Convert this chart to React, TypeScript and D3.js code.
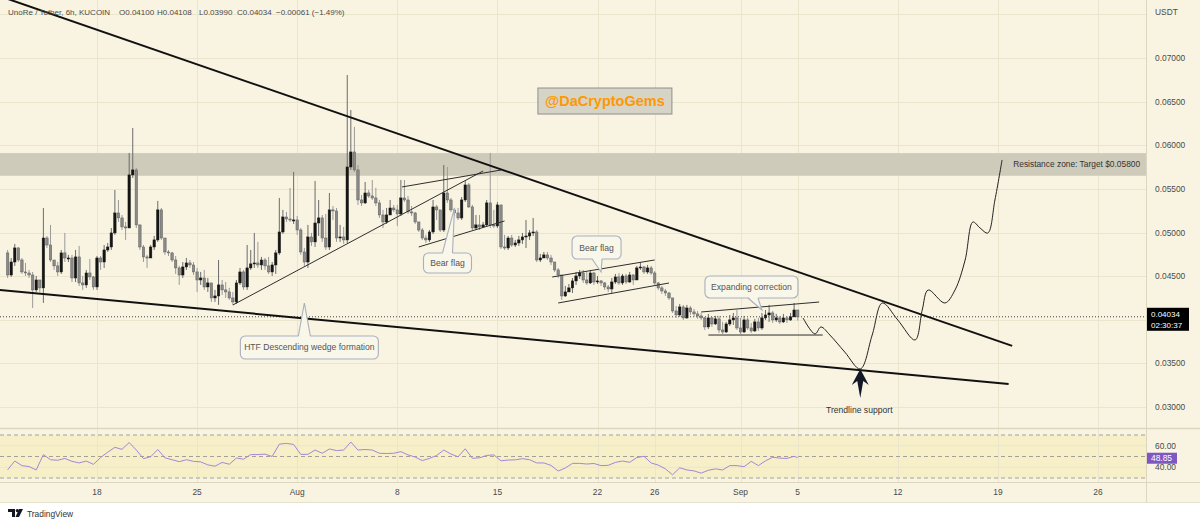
import React from 'react';
import * as d3 from 'd3';

const FONT = '"Liberation Sans", Arial, sans-serif';

// ---------- data ----------
const START = Date.UTC(2022, 6, 11, 18); // first 6h candle
const STEP = 6 * 3600 * 1000;
const firstOpen = 0.04766;

const closes = [
  0.04513, 0.04662, 0.04823, 0.04685, 0.04548, 0.04536, 0.04513, 0.04342, 0.04456, 0.04365,
  0.04937, 0.04857, 0.04685, 0.04617, 0.04548, 0.04766, 0.04708, 0.04708, 0.04479, 0.0472,
  0.04422, 0.04399, 0.04536, 0.04491, 0.04376, 0.04708, 0.04662, 0.048, 0.04834, 0.04995,
  0.05224, 0.05167, 0.05064, 0.05052, 0.0566, 0.05717, 0.05087, 0.04834, 0.0472, 0.04708,
  0.04834, 0.04915, 0.05259, 0.04937, 0.04777, 0.04766, 0.04685, 0.04594, 0.04513, 0.04605,
  0.04651, 0.04628, 0.04548, 0.04456, 0.04479, 0.04376, 0.04422, 0.0425, 0.04273, 0.04399,
  0.04342, 0.04319, 0.0425, 0.04204, 0.04422, 0.04548, 0.04376, 0.04594, 0.0464, 0.04651,
  0.04628, 0.04685, 0.04617, 0.04548, 0.04628, 0.04766, 0.05006, 0.05178, 0.05155, 0.05144,
  0.05144, 0.05029, 0.04777, 0.04662, 0.04949, 0.04892, 0.05109, 0.05167, 0.04937, 0.04834,
  0.05259, 0.05247, 0.04937, 0.04949, 0.04915, 0.05751, 0.05923, 0.05717, 0.05373, 0.05339,
  0.05453, 0.05419, 0.05396, 0.05339, 0.05201, 0.05121, 0.05201, 0.05281, 0.05259, 0.05213,
  0.05396, 0.05373, 0.05236, 0.05224, 0.05121, 0.05029, 0.04937, 0.04915, 0.05006, 0.05293,
  0.05259, 0.05029, 0.05453, 0.05373, 0.05259, 0.05224, 0.05167, 0.05373, 0.05545, 0.05293,
  0.05052, 0.05087, 0.05064, 0.05087, 0.05339, 0.05087, 0.05075, 0.05316, 0.04834, 0.04823,
  0.04937, 0.04857, 0.0488, 0.04915, 0.04949, 0.0496, 0.04995, 0.05006, 0.04685, 0.04708,
  0.04743, 0.04708, 0.04662, 0.04571, 0.04513, 0.04273, 0.04319, 0.04365, 0.04445, 0.04502,
  0.04536, 0.04456, 0.04422, 0.04536, 0.04433, 0.04445, 0.04422, 0.04376, 0.04353, 0.04433,
  0.04491, 0.04422, 0.04502, 0.04433, 0.04513, 0.04456, 0.04594, 0.04605, 0.04548, 0.04594,
  0.04536, 0.04422, 0.04365, 0.0433, 0.04307, 0.0425, 0.04101, 0.04055, 0.04147, 0.04021,
  0.04135, 0.0409, 0.04067, 0.04044, 0.04021, 0.03918, 0.04021, 0.03952, 0.0401, 0.03883,
  0.0386, 0.03952, 0.03998, 0.04021, 0.03906, 0.0386, 0.03998, 0.03906, 0.03872, 0.03975,
  0.03906, 0.04021, 0.04055, 0.04078, 0.03998, 0.04021, 0.03975, 0.04021, 0.03998, 0.04033,
  0.04112, 0.04034,
];

const highs = [
  0.048, 0.04708, 0.04869, 0.04834, 0.04708, 0.04651, 0.04571, 0.04548, 0.04502, 0.0441,
  0.05281, 0.0496, 0.05087, 0.04685, 0.04662, 0.048, 0.04995, 0.04743, 0.04743, 0.048,
  0.04846, 0.04502, 0.04571, 0.04697, 0.04502, 0.04731, 0.04731, 0.04857, 0.0488, 0.05052,
  0.05488, 0.05373, 0.05201, 0.05121, 0.05912, 0.06198, 0.0574, 0.05087, 0.04857, 0.04743,
  0.04857, 0.0496, 0.05362, 0.05281, 0.04937, 0.048, 0.04777, 0.04731, 0.04617, 0.04662,
  0.04708, 0.04685, 0.04662, 0.04594, 0.04548, 0.04571, 0.04479, 0.04422, 0.04342, 0.04685,
  0.04456, 0.04433, 0.04365, 0.04319, 0.04456, 0.04594, 0.04571, 0.04857, 0.048, 0.04995,
  0.04892, 0.0472, 0.04708, 0.0472, 0.04662, 0.048, 0.05396, 0.05259, 0.05236, 0.05511,
  0.05694, 0.0519, 0.05052, 0.04823, 0.05087, 0.04995, 0.05591, 0.05373, 0.05201, 0.05213,
  0.05453, 0.05304, 0.05281, 0.05087, 0.05064, 0.06805, 0.06404, 0.0621, 0.05774, 0.0543,
  0.05579, 0.05488, 0.05602, 0.05511, 0.05373, 0.05259, 0.05281, 0.05373, 0.05316, 0.05316,
  0.05602, 0.05602, 0.05419, 0.05304, 0.05236, 0.05121, 0.05052, 0.04972, 0.05029, 0.05373,
  0.05316, 0.05224, 0.05774, 0.05751, 0.05396, 0.05281, 0.05281, 0.05407, 0.05591, 0.05568,
  0.05316, 0.05201, 0.05201, 0.05121, 0.05373, 0.05912, 0.05259, 0.0535, 0.05316, 0.04972,
  0.0496, 0.04972, 0.04915, 0.0496, 0.04995, 0.05144, 0.05029, 0.05167, 0.05029, 0.04754,
  0.04777, 0.04777, 0.04743, 0.04662, 0.04594, 0.04513, 0.04387, 0.0441, 0.04479, 0.04548,
  0.04571, 0.04571, 0.04548, 0.04571, 0.04548, 0.04502, 0.04456, 0.04433, 0.04399, 0.04479,
  0.04525, 0.04536, 0.04525, 0.04525, 0.04548, 0.04525, 0.04617, 0.04662, 0.04617, 0.04628,
  0.04617, 0.04559, 0.04433, 0.04387, 0.04353, 0.04319, 0.0425, 0.04158, 0.04181, 0.0417,
  0.0417, 0.04158, 0.04124, 0.04101, 0.04078, 0.04033, 0.04067, 0.04033, 0.04044, 0.04044,
  0.03975, 0.03975, 0.04055, 0.04078, 0.04112, 0.04021, 0.04044, 0.04021, 0.03963, 0.0401,
  0.04021, 0.04078, 0.04112, 0.0417, 0.04101, 0.04067, 0.04044, 0.04067, 0.04044, 0.04078,
  0.04193, 0.04108,
];

const lows = [
  0.04479, 0.04491, 0.04617, 0.04662, 0.04525, 0.04502, 0.04479, 0.04135, 0.04319, 0.04319,
  0.04193, 0.04823, 0.04662, 0.04571, 0.04502, 0.04525, 0.04662, 0.04662, 0.04433, 0.04433,
  0.04387, 0.04342, 0.04365, 0.04456, 0.04342, 0.04342, 0.04571, 0.04594, 0.04777, 0.048,
  0.04972, 0.05121, 0.05029, 0.04915, 0.05052, 0.05625, 0.05052, 0.048, 0.04662, 0.04594,
  0.04708, 0.048, 0.04892, 0.04915, 0.04743, 0.04731, 0.04662, 0.04525, 0.04399, 0.04479,
  0.04571, 0.04594, 0.04513, 0.04319, 0.04399, 0.04342, 0.04319, 0.04204, 0.04204, 0.0417,
  0.04284, 0.0425, 0.04227, 0.0417, 0.04181, 0.04399, 0.04342, 0.04342, 0.04571, 0.04594,
  0.04594, 0.04571, 0.04571, 0.04525, 0.04502, 0.04525, 0.04743, 0.04983, 0.05121, 0.05121,
  0.05098, 0.04972, 0.04743, 0.04617, 0.04594, 0.04846, 0.04834, 0.0496, 0.04892, 0.048,
  0.048, 0.05144, 0.04892, 0.04892, 0.04869, 0.0488, 0.05717, 0.05694, 0.05316, 0.05304,
  0.05327, 0.05396, 0.05373, 0.05304, 0.05167, 0.05052, 0.05098, 0.05201, 0.05236, 0.05075,
  0.0519, 0.0535, 0.05213, 0.0519, 0.05098, 0.05006, 0.04915, 0.0488, 0.04892, 0.04983,
  0.05144, 0.05006, 0.05006, 0.05339, 0.05236, 0.0519, 0.05144, 0.05144, 0.0535, 0.05281,
  0.05029, 0.05029, 0.05029, 0.05052, 0.05064, 0.05052, 0.05052, 0.05052, 0.04811, 0.048,
  0.048, 0.04834, 0.04834, 0.04846, 0.04869, 0.04823, 0.04915, 0.0496, 0.04662, 0.04662,
  0.04708, 0.04685, 0.04628, 0.04548, 0.04479, 0.04227, 0.04261, 0.04319, 0.04307, 0.04399,
  0.04468, 0.04422, 0.04399, 0.0441, 0.04399, 0.0441, 0.04387, 0.04342, 0.04319, 0.04307,
  0.0441, 0.04399, 0.04399, 0.0441, 0.04422, 0.04399, 0.04456, 0.04571, 0.04525, 0.04525,
  0.04513, 0.04399, 0.04342, 0.04296, 0.04273, 0.04227, 0.04078, 0.04021, 0.04033, 0.03998,
  0.0401, 0.04055, 0.04033, 0.0401, 0.03998, 0.03883, 0.03895, 0.03918, 0.03941, 0.03849,
  0.03837, 0.03849, 0.03929, 0.03941, 0.03883, 0.03837, 0.03849, 0.03883, 0.03849, 0.0386,
  0.03872, 0.03883, 0.03998, 0.03975, 0.03963, 0.03975, 0.03952, 0.03963, 0.03963, 0.03986,
  0.04044, 0.0399,
];

// RSI(14), read every 12h (every second candle), last value on the last candle
const rsiValues = [
  37.6, 45.8, 41.5, 40.6, 37.5, 51.8, 47, 46.5, 48.2, 45.5,
  44, 45.8, 42.7, 49, 54, 58.5, 56.7, 63, 56, 48,
  49.7, 56.5, 48.8, 47, 45.2, 47, 45.5, 45, 42.2, 41,
  44.5, 42.8, 48.6, 47.5, 51.8, 51.8, 52.2, 50, 61.5, 62.2,
  61.2, 52, 52, 56, 53, 57, 55.5, 56, 63.5, 56,
  56.5, 56, 53, 52.8, 53, 54.5, 51.5, 49.5, 46.2, 48.2,
  51, 56, 52.3, 49.7, 57.2, 48.3, 48.8, 51, 51.5, 46,
  46.7, 46.9, 48, 47, 44, 44, 41.7, 36.5, 39.3, 43.6,
  43.6, 43, 43.5, 41.5, 41.8, 44.5, 45.8, 44.6, 49, 50.2,
  44, 42, 38.5, 33, 39.5, 37.5, 36.6, 34.5, 37.2, 38.5,
  37.5, 41.5, 41.5, 40.5, 45.5, 41.5, 46, 49.3, 48.5, 48.2,
  50.2, 48.85,
];

const timeTicks = [
  { date: '2022-07-18', label: '18' },
  { date: '2022-07-25', label: '25' },
  { date: '2022-08-01', label: 'Aug' },
  { date: '2022-08-08', label: '8' },
  { date: '2022-08-15', label: '15' },
  { date: '2022-08-22', label: '22' },
  { date: '2022-08-26', label: '26' },
  { date: '2022-09-01', label: 'Sep' },
  { date: '2022-09-05', label: '5' },
  { date: '2022-09-12', label: '12' },
  { date: '2022-09-19', label: '19' },
  { date: '2022-09-26', label: '26' },
];
// 0.04000 is hidden behind the last-price label in the reference
const priceTicks = [0.03, 0.035, 0.045, 0.05, 0.055, 0.06, 0.065, 0.07];
const priceGrid = [0.03, 0.035, 0.04, 0.045, 0.05, 0.055, 0.06, 0.065, 0.07, 0.075];
const rsiTicks = [60, 40];
const rsiBands = [70, 50, 30];

// drawings: [time, price]
const upperWedge: [string, number][] = [['2022-07-11T00:00Z', 0.0772], ['2022-09-20T00:00Z', 0.037]];
const lowerWedge: [string, number][] = [['2022-07-11T00:00Z', 0.04344], ['2022-09-19T18:00Z', 0.03264]];
const risingSupport: [string, number][] = [['2022-07-27T12:00Z', 0.04169], ['2022-08-14T00:00Z', 0.05705]];
const flag1Upper: [string, number][] = [['2022-08-08T08:00Z', 0.05522], ['2022-08-15T06:00Z', 0.05716]];
const flag1Lower: [string, number][] = [['2022-08-09T12:00Z', 0.04834], ['2022-08-15T12:00Z', 0.05132]];
const flag2Upper: [string, number][] = [['2022-08-18T20:00Z', 0.0449], ['2022-08-26T00:00Z', 0.04685]];
const flag2Lower: [string, number][] = [['2022-08-19T06:00Z', 0.04192], ['2022-08-27T00:00Z', 0.04421]];
const expUpper: [string, number][] = [['2022-08-29T06:00Z', 0.04089], ['2022-09-06T12:00Z', 0.04203]];
const expLower: [string, number][] = [['2022-08-29T18:00Z', 0.03825], ['2022-09-06T18:00Z', 0.03825]];
const projection: [string, number][] = [
  ['2022-09-05T09:00Z', 0.0402],
  ['2022-09-06T05:00Z', 0.03837],
  ['2022-09-06T15:00Z', 0.03917],
  ['2022-09-07T06:00Z', 0.03825],
  ['2022-09-08T07:00Z', 0.0363],
  ['2022-09-09T09:00Z', 0.03436],
  ['2022-09-10T05:00Z', 0.03825],
  ['2022-09-10T22:00Z', 0.04192],
  ['2022-09-12T00:00Z', 0.03997],
  ['2022-09-13T05:00Z', 0.03768],
  ['2022-09-13T17:00Z', 0.04112],
  ['2022-09-14T03:00Z', 0.04341],
  ['2022-09-15T07:00Z', 0.04192],
  ['2022-09-16T00:00Z', 0.04341],
  ['2022-09-16T17:00Z', 0.04685],
  ['2022-09-17T06:00Z', 0.0512],
  ['2022-09-17T18:00Z', 0.05052],
  ['2022-09-18T07:00Z', 0.04994],
  ['2022-09-18T19:00Z', 0.05372],
  ['2022-09-19T07:00Z', 0.05831],
];
const resistanceZone = { top: 0.0591, bottom: 0.0565, label: 'Resistance zone: Target $0.05800', labelTime: '2022-09-20T00:00Z', labelPrice: 0.0578 };
const supportArrow = { time: '2022-09-09T09:00Z', price: 0.03436, label: 'Trendline support' };
const brand = { time: '2022-08-17T20:00Z', price: 0.06656, text: '@DaCryptoGems' };

const callouts = [
  { text: 'Bear flag', time: '2022-08-12T00:00Z', price: 0.05281, box: [-31, 45, 48, 20], base: [-12, -2] },
  { text: 'Bear flag', time: '2022-08-22T06:00Z', price: 0.04547, box: [-29, -36, 49, 23], base: [-9, 1] },
  { text: 'Expanding correction', time: '2022-09-02T12:00Z', price: 0.04112, box: [-57, -34, 93, 22], base: [-14, -4] },
  { text: 'HTF Descending wedge formation', time: '2022-08-01T12:00Z', price: 0.04192, box: [-64, 33, 138, 23], base: [-6, 6] },
];

const header = [
  { text: 'UnoRe / Tether, 6h, KUCOIN', x: 8 },
  { text: 'O0.04100', x: 119 },
  { text: 'H0.04108', x: 157 },
  { text: 'L0.03990', x: 199 },
  { text: 'C0.04034', x: 237 },
  { text: '\u22120.00061 (\u22121.49%)', x: 276 },
];
const lastPrice = 0.04034;
const countdown = '02:30:37';

// ---------- layout / style ----------
const PANE_R = 1146;
const MAIN_B = 428;
const RSI_T = 429;
const RSI_B = 482;
const AXIS_B = 502;
const BG = '#f8f4e1';
const GRID = '#ebe5cd';
const TXT = '#4a4a4a';

export default function App() {
  const x = d3.scaleUtc()
    .domain([new Date(Date.UTC(2022, 6, 18)), new Date(Date.UTC(2022, 8, 26))])
    .range([97, 1098]);
  const y = d3.scaleLinear().domain([0.03, 0.07]).range([407, 58]);
  const yR = d3.scaleLinear().domain([30, 70]).range([478, 435]);
  const T = (s: string) => new Date(s);

  const n = closes.length;
  const candles = closes.map((c, i) => {
    const o = i === 0 ? firstOpen : closes[i - 1];
    return {
      t: new Date(START + i * STEP),
      o, c,
      h: Math.max(highs[i], o, c),
      l: Math.min(lows[i], o, c),
    };
  });
  const bw = (x(new Date(START + STEP)) - x(new Date(START))) * 0.68;

  const seg = (pts: [string, number][]) =>
    d3.line<[string, number]>().x(d => x(T(d[0]))).y(d => y(d[1]))(pts) || '';

  const projPath = d3.line<[string, number]>()
    .x(d => x(T(d[0]))).y(d => y(d[1]))
    .curve(d3.curveCatmullRom.alpha(0.5))(projection) || '';

  const rsiPath = d3.line<number>()
    .x((_, j) => x(new Date(START + Math.min(2 * j, n - 1) * STEP)))
    .y(v => yR(v))(rsiValues) || '';

  const ax = x(T(supportArrow.time));
  const ay = y(supportArrow.price);

  const bx = x(T(brand.time));
  const by = y(brand.price);
  const lastRsi = rsiValues[rsiValues.length - 1];

  return (
    <svg width={1200} height={526} style={{ position: 'absolute', left: 0, top: 0, fontFamily: FONT }}>
      <defs>
        <clipPath id="mainClip"><rect x={0} y={0} width={PANE_R} height={MAIN_B} /></clipPath>
        <clipPath id="rsiClip"><rect x={0} y={RSI_T} width={PANE_R} height={RSI_B - RSI_T} /></clipPath>
      </defs>
      <rect x={0} y={0} width={1200} height={526} fill="#ffffff" />
      <rect x={0} y={0} width={1200} height={AXIS_B} fill={BG} />

      {/* main pane grid */}
      <g clipPath="url(#mainClip)">
        {priceGrid.map(p => (
          <line key={'hg' + p} x1={0} x2={PANE_R} y1={Math.round(y(p)) + 0.5} y2={Math.round(y(p)) + 0.5} stroke={GRID} />
        ))}
        {timeTicks.map(t => (
          <line key={'vg' + t.date} x1={Math.round(x(T(t.date))) + 0.5} x2={Math.round(x(T(t.date))) + 0.5} y1={0} y2={MAIN_B} stroke={GRID} />
        ))}
        {/* resistance zone */}
        <rect x={0} y={y(resistanceZone.top)} width={PANE_R} height={y(resistanceZone.bottom) - y(resistanceZone.top)} fill="#cfcbba" />

        {/* last price dotted line */}
        <line x1={0} x2={PANE_R} y1={y(lastPrice)} y2={y(lastPrice)} stroke="#444" strokeDasharray="1,2" strokeWidth={1} />

        {/* candles */}
        {candles.map((d, i) => {
          const up = d.c >= d.o;
          const cx = x(d.t);
          const top = y(Math.max(d.o, d.c));
          const bot = y(Math.min(d.o, d.c));
          return (
            <g key={i}>
              <line x1={cx} x2={cx} y1={y(d.h)} y2={y(d.l)} stroke={up ? '#6b6b6b' : '#9a9a9a'} strokeWidth={1} />
              <rect x={cx - bw / 2} y={top} width={bw} height={Math.max(1, bot - top)}
                fill={up ? '#151515' : '#8a8a8a'} stroke={up ? '#151515' : '#5e5e5e'} strokeWidth={0.5} />
            </g>
          );
        })}

        {/* thin pattern lines */}
        {[risingSupport, flag1Upper, flag1Lower, flag2Upper, flag2Lower, expUpper, expLower].map((s, i) => (
          <path key={'thin' + i} d={seg(s)} stroke="#2e2e2e" strokeWidth={1} fill="none" />
        ))}
        {/* wedge */}
        <path d={seg(upperWedge)} stroke="#111" strokeWidth={2} fill="none" />
        <path d={seg(lowerWedge)} stroke="#111" strokeWidth={2} fill="none" />
        {/* projection */}
        <path d={projPath} stroke="#222" strokeWidth={1} fill="none" />

        {/* support arrow */}
        <path d={`M${ax},${ay} L${ax + 8.5},${ay + 16} L${ax + 3},${ay + 12} L${ax},${ay + 29} L${ax - 3},${ay + 12} L${ax - 8.5},${ay + 16} Z`} fill="#121827" />
        <text x={ax - 1} y={ay + 44} textAnchor="middle" fontSize={8.6} fill="#333" fontWeight={500}>{supportArrow.label}</text>

        {/* callouts */}
        {callouts.map((c, i) => {
          const tx = x(T(c.time));
          const ty = y(c.price);
          const [dx, dy, w, h] = c.box;
          const bx0 = tx + dx, by0 = ty + dy;
          const below = dy > 0; // box below tip => pointer from top edge
          const edge = below ? by0 : by0 + h;
          const inside = below ? 1.2 : -1.2;
          const b0 = tx + c.base[0], b1 = tx + c.base[1];
          return (
            <g key={'co' + i}>
              <rect x={bx0} y={by0} width={w} height={h} rx={5} fill="#f9f6ea" stroke="#a9afbd" strokeWidth={1.1} />
              <polygon points={`${b0},${edge + inside} ${tx},${ty} ${b1},${edge + inside}`} fill="#f9f6ea" />
              <polyline points={`${b0},${edge} ${tx},${ty} ${b1},${edge}`} fill="none" stroke="#a9afbd" strokeWidth={1.1} />
              <text x={bx0 + w / 2} y={by0 + h / 2 + 3} textAnchor="middle" fontSize={8.6} fill="#555">{c.text}</text>
            </g>
          );
        })}

        {/* brand */}
        <rect x={bx} y={by} width={134} height={26} fill="#d6d3c7" stroke="#8f8f8f" strokeWidth={1} />
        <text x={bx + 67} y={by + 18} textAnchor="middle" fontSize={14.5} fontWeight="bold" fill="#ff9800">{brand.text}</text>

        {/* resistance label */}
        <text x={x(T(resistanceZone.labelTime)) + 1} y={y(resistanceZone.labelPrice) + 3} fontSize={8.4} fill="#333">{resistanceZone.label}</text>

        {/* header */}
        {header.map((h, i) => (
          <text key={'h' + i} x={h.x} y={15} fontSize={8} fill={TXT}>{h.text}</text>
        ))}
      </g>

      {/* pane separators */}
      <line x1={0} x2={1200} y1={MAIN_B + 0.5} y2={MAIN_B + 0.5} stroke="#dcd6bf" strokeWidth={1.5} />
      <line x1={0} x2={1200} y1={RSI_B + 0.5} y2={RSI_B + 0.5} stroke="#dcd6bf" strokeWidth={1} />
      <line x1={0} x2={1200} y1={AXIS_B + 0.5} y2={AXIS_B + 0.5} stroke="#e6e1cc" strokeWidth={1} />
      <line x1={PANE_R + 0.5} x2={PANE_R + 0.5} y1={0} y2={AXIS_B} stroke="#dcd6bf" strokeWidth={1} />

      {/* RSI pane */}
      <g clipPath="url(#rsiClip)">
        <rect x={0} y={yR(70)} width={PANE_R} height={yR(30) - yR(70)} fill="#f7efc8" />
        {timeTicks.map(t => (
          <line key={'rvg' + t.date} x1={Math.round(x(T(t.date))) + 0.5} x2={Math.round(x(T(t.date))) + 0.5} y1={RSI_T} y2={RSI_B} stroke={GRID} />
        ))}
        {rsiTicks.map(v => (
          <line key={'rhg' + v} x1={0} x2={PANE_R} y1={yR(v)} y2={yR(v)} stroke={GRID} />
        ))}
        {rsiBands.map(v => (
          <line key={'rb' + v} x1={0} x2={PANE_R} y1={yR(v)} y2={yR(v)} stroke="#a3a09a" strokeDasharray="4,3" strokeWidth={1} />
        ))}
        <path d={rsiPath} fill="none" stroke="#a487d8" strokeWidth={1} />
      </g>

      {/* price axis */}
      <text x={1155} y={15} fontSize={8.4} fill={TXT}>USDT</text>
      {priceTicks.map(p => (
        <text key={'pt' + p} x={1155} y={y(p) + 3} fontSize={8.4} fill={TXT}>{p.toFixed(5)}</text>
      ))}
      <rect x={PANE_R + 1} y={y(lastPrice) - 9} width={42} height={23} fill="#000" />
      <text x={1151} y={y(lastPrice) + 0.5} fontSize={8} fill="#fff">{lastPrice.toFixed(5)}</text>
      <text x={1151} y={y(lastPrice) + 11.5} fontSize={8} fill="#fff">{countdown}</text>

      {/* RSI axis */}
      {rsiTicks.map(v => (
        <text key={'rt' + v} x={1155} y={yR(v) + 3} fontSize={8.4} fill={TXT}>{v.toFixed(2)}</text>
      ))}
      <rect x={PANE_R + 1} y={yR(lastRsi) - 5} width={30} height={11} fill="#7e57c2" />
      <text x={1151} y={yR(lastRsi) + 3} fontSize={8.4} fill="#fff">{lastRsi.toFixed(2)}</text>

      {/* time axis */}
      {timeTicks.map(t => (
        <text key={'tt' + t.date} x={x(T(t.date))} y={495} textAnchor="middle" fontSize={8.4} fill={TXT}>{t.label}</text>
      ))}

      {/* TradingView logo */}
      <g>
        <path d="M8,509 h7 v8 h-3 v-5 h-4 z" fill="#131722" />
        <circle cx={17.3} cy={510.6} r={1.6} fill="#131722" />
        <path d="M19,509 h4 l-4,8 h-3.5 z" fill="#131722" />
        <text x={27} y={517} fontSize={8.4} fill="#333">TradingView</text>
      </g>
    </svg>
  );
}
